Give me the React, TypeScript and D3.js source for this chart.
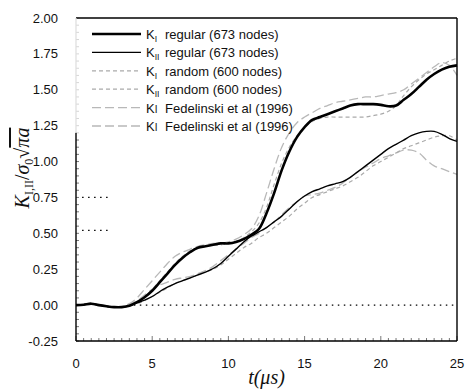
import React from 'react';
import * as d3 from 'd3';

const W = 474;
const H = 392;

// time axis (microseconds)
const T = [0, 0.5, 1, 1.5, 2, 2.5, 3, 3.5, 4, 4.5, 5, 5.5, 6, 6.5, 7, 7.5, 8, 8.5, 9, 9.5, 10, 10.5, 11, 11.5, 12, 12.5, 13, 13.5, 14, 14.5, 15, 15.5, 16, 16.5, 17, 17.5, 18, 18.5, 19, 19.5, 20, 20.5, 21, 21.5, 22, 22.5, 23, 23.5, 24, 24.5, 25];

const kIRegular = [0, 0.003, 0.01, 0.0, -0.008, -0.014, -0.014, -0.005, 0.02, 0.055, 0.1, 0.16, 0.22, 0.28, 0.33, 0.37, 0.4, 0.41, 0.42, 0.43, 0.43, 0.44, 0.46, 0.49, 0.53, 0.64, 0.78, 0.94, 1.07, 1.17, 1.24, 1.29, 1.31, 1.33, 1.35, 1.37, 1.39, 1.4, 1.4, 1.4, 1.395, 1.385, 1.39, 1.43, 1.47, 1.52, 1.57, 1.61, 1.64, 1.66, 1.67];
const kIIRegular = [0, 0.003, 0.01, 0.0, -0.008, -0.014, -0.014, -0.005, 0.015, 0.035, 0.06, 0.095, 0.125, 0.15, 0.17, 0.19, 0.21, 0.23, 0.255, 0.29, 0.34, 0.39, 0.44, 0.48, 0.51, 0.54, 0.58, 0.62, 0.67, 0.72, 0.76, 0.79, 0.81, 0.83, 0.845, 0.86, 0.89, 0.93, 0.97, 1.01, 1.05, 1.09, 1.12, 1.15, 1.18, 1.2, 1.21, 1.21, 1.19, 1.16, 1.14];
const kIRandom = [0, 0.003, 0.01, 0.0, -0.008, -0.014, -0.014, -0.003, 0.02, 0.06, 0.11, 0.17, 0.23, 0.29, 0.34, 0.38, 0.4, 0.41, 0.415, 0.42, 0.43, 0.445, 0.47, 0.51, 0.57, 0.68, 0.84, 0.99, 1.1, 1.18, 1.24, 1.28, 1.3, 1.31, 1.31, 1.31, 1.31, 1.31, 1.31, 1.32, 1.33, 1.35, 1.39, 1.46, 1.52, 1.57, 1.61, 1.64, 1.67, 1.7, 1.72];
const kIIRandom = [0, 0.003, 0.01, 0.0, -0.008, -0.014, -0.014, -0.005, 0.01, 0.03, 0.06, 0.09, 0.12, 0.15, 0.17, 0.19, 0.21, 0.23, 0.25, 0.28, 0.32, 0.36, 0.4, 0.43, 0.47, 0.5, 0.54, 0.58, 0.62, 0.67, 0.71, 0.75, 0.77, 0.79, 0.81, 0.83, 0.86, 0.89, 0.93, 0.97, 1.0, 1.03, 1.06, 1.09, 1.11, 1.13, 1.15, 1.17, 1.18, 1.18, 1.15];
const kIFedelinski = [0, 0.003, 0.01, 0.0, -0.008, -0.014, -0.012, 0.01, 0.05, 0.11, 0.17, 0.23, 0.29, 0.34, 0.37, 0.39, 0.41, 0.42, 0.43, 0.43, 0.44, 0.46, 0.49, 0.53, 0.62, 0.78, 0.95, 1.1, 1.2, 1.27, 1.31, 1.34, 1.37, 1.39, 1.41, 1.42, 1.43, 1.44, 1.45, 1.45, 1.46, 1.47, 1.48, 1.5, 1.54, 1.58, 1.62, 1.66, 1.69, 1.67, 1.6];
const kIIFedelinski = [0, 0.003, 0.01, 0.0, -0.008, -0.014, -0.012, 0.005, 0.03, 0.07, 0.11, 0.14, 0.16, 0.18, 0.19, 0.2, 0.22, 0.24, 0.27, 0.31, 0.35, 0.39, 0.43, 0.47, 0.5, 0.54, 0.58, 0.63, 0.68, 0.72, 0.76, 0.77, 0.78, 0.8, 0.82, 0.85, 0.89, 0.93, 0.96, 0.99, 1.02, 1.04, 1.06, 1.08, 1.08, 1.06, 1.01, 0.97, 0.95, 0.93, 0.91];

const xTicks = [0, 5, 10, 15, 20, 25];
const yTicks = [-0.25, 0, 0.25, 0.5, 0.75, 1, 1.25, 1.5, 1.75, 2];

const series = [
  { values: kIRegular, sub: 'I', label: 'regular (673 nodes)', stroke: '#000', width: 2.6, dash: null, flat: false },
  { values: kIIRegular, sub: 'II', label: 'regular (673 nodes)', stroke: '#000', width: 1.4, dash: null, flat: false },
  { values: kIRandom, sub: 'I', label: 'random (600 nodes)', stroke: '#aaa', width: 1.2, dash: '4,3', flat: false },
  { values: kIIRandom, sub: 'II', label: 'random (600 nodes)', stroke: '#aaa', width: 1.2, dash: '4,3', flat: false },
  { values: kIFedelinski, sub: 'I', label: 'Fedelinski et al (1996)', stroke: '#b8b8b8', width: 1.3, dash: '9,4', flat: true },
  { values: kIIFedelinski, sub: 'II', label: 'Fedelinski et al (1996)', stroke: '#b8b8b8', width: 1.3, dash: '9,4', flat: true },
];

const App = () => {
  const x = d3.scaleLinear().domain([0, 25]).range([76, 457]);
  const y = d3.scaleLinear().domain([-0.25, 2]).range([341, 18]);

  const line = d3.line<number>()
    .x((_, i) => x(T[i]))
    .y(d => y(d))
    .curve(d3.curveCatmullRom.alpha(0.5));

  const xMinor = d3.range(0, 25.01, 0.5);
  const yMinor = d3.range(-0.25, 2.001, 0.05);
  const font = 'Liberation Sans, Arial, sans-serif';
  const serif = 'Liberation Serif, Times New Roman, serif';

  // draw order: grays first, black on top
  const drawOrder = [5, 4, 3, 2, 1, 0];

  return (
    <svg width={W} height={H} style={{ position: 'absolute', left: 0, top: 0, background: '#fff' }}>
      <rect x={0} y={0} width={W} height={H} fill="#fff" />

      {/* minor ticks */}
      {xMinor.map((t, i) => (
        <line key={'xm' + i} x1={x(t)} x2={x(t)} y1={y(-0.25)} y2={y(-0.25) - (t % 5 === 0 ? 5 : 3)} stroke="#555" strokeWidth={0.8} />
      ))}
      {yMinor.map((v, i) => (
        <line key={'ym' + i} x1={x(0)} x2={x(0) + 3} y1={y(v)} y2={y(v)} stroke={v > 1.2 ? '#ccc' : '#555'} strokeWidth={0.8} />
      ))}

      {/* dotted reference lines */}
      <line x1={x(3.4)} x2={x(25)} y1={y(0)} y2={y(0)} stroke="#000" strokeWidth={1.3} strokeDasharray="1.5,4.5" />
      <line x1={x(0.4)} x2={x(2.1)} y1={y(0.75)} y2={y(0.75)} stroke="#000" strokeWidth={1.3} strokeDasharray="1.5,4.5" />
      <line x1={x(0.4)} x2={x(2.1)} y1={y(0.52)} y2={y(0.52)} stroke="#000" strokeWidth={1.3} strokeDasharray="1.5,4.5" />

      {/* curves */}
      {drawOrder.map(k => {
        const s = series[k];
        return (
          <path key={'s' + k} d={line(s.values) || ''} fill="none" stroke={s.stroke}
            strokeWidth={s.width} strokeDasharray={s.dash || undefined} strokeLinejoin="round" />
        );
      })}

      {/* frame */}
      <line x1={x(0)} x2={x(25)} y1={y(2)} y2={y(2)} stroke="#000" strokeWidth={1.4} />
      <line x1={x(25)} x2={x(25)} y1={y(2)} y2={y(-0.25)} stroke="#000" strokeWidth={1.4} />
      <line x1={x(0)} x2={x(25)} y1={y(-0.25)} y2={y(-0.25)} stroke="#000" strokeWidth={1.4} />
      <line x1={x(0)} x2={x(0)} y1={y(-0.25)} y2={y(1.2)} stroke="#000" strokeWidth={1.4} />
      <line x1={x(0)} x2={x(0)} y1={y(1.2)} y2={y(2)} stroke="#ddd" strokeWidth={1.2} />

      {/* tick labels */}
      {yTicks.map(v => (
        <text key={'yt' + v} x={58} y={y(v) + 4.5} textAnchor="end" fontFamily={font} fontSize={13} fill="#111">
          {v.toFixed(2)}
        </text>
      ))}
      {xTicks.map(t => (
        <text key={'xt' + t} x={x(t)} y={368} textAnchor="middle" fontFamily={font} fontSize={13} fill="#111">
          {t}
        </text>
      ))}

      {/* legend */}
      {series.map((s, i) => {
        const ly = 34 + i * 18.4;
        return (
          <g key={'lg' + i}>
            <line x1={92} x2={141} y1={ly} y2={ly} stroke={s.stroke} strokeWidth={s.width} strokeDasharray={s.dash || undefined} />
            <text x={146} y={ly + 5} fontFamily={font} fontSize={13} fill="#111">
              K
              <tspan fontSize={s.flat ? 10 : 8.5} dy={s.flat ? 0 : 3}>{s.sub === 'I' ? 'I' : (s.flat ? 'I' : 'II')}</tspan>
            </text>
            <text x={165} y={ly + 5} fontFamily={font} fontSize={13} fill="#111">{s.label}</text>
          </g>
        );
      })}

      {/* axis titles */}
      <text x={x(12.5)} y={384} textAnchor="middle" fontFamily={serif} fontSize={20} fontStyle="italic" fill="#111">
        t(μs)
      </text>
      <g transform="translate(29,168) rotate(-90)">
        <text x={0} y={0} textAnchor="middle" fontFamily={serif} fontSize={20} fill="#111">
          <tspan fontStyle="italic">K</tspan>
          <tspan fontSize={12} dy={4}>I,II</tspan>
          <tspan dy={-4}>/</tspan>
          <tspan fontStyle="italic">σ</tspan>
          <tspan fontSize={12} dy={4}>0</tspan>
          <tspan dy={-4}>√</tspan>
          <tspan fontStyle="italic" textDecoration="overline">πa</tspan>
        </text>
      </g>
    </svg>
  );
};

export default App;
